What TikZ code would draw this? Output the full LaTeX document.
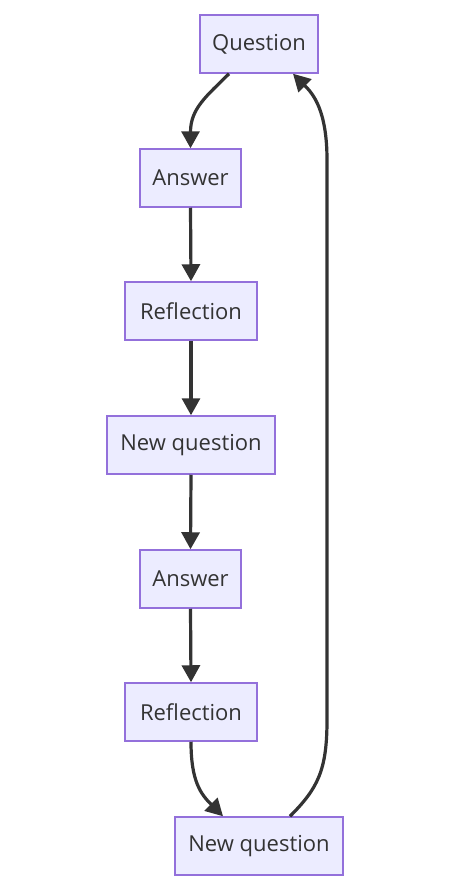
\documentclass[tikz,border=0pt]{standalone}
\usepackage{fontspec}
\setmainfont{Open Sans}
\usetikzlibrary{arrows.meta}
\definecolor{boxfill}{HTML}{ECECFF}
\definecolor{boxline}{HTML}{9370DB}
\definecolor{ink}{HTML}{333333}
\begin{document}
\begin{tikzpicture}[x=1pt,y=-1pt,
  box/.style={draw=boxline,fill=boxfill,line width=1.5pt,minimum height=58pt,inner sep=0pt,
    text=ink,font=\fontsize{22}{26}\selectfont},
  link/.style={draw=ink,line width=3.2pt,-{Triangle[length=17pt,width=18pt]}}]
\useasboundingbox (0,0) rectangle (474,886);
\fill[white] (0,0) rectangle (474,886);
\node[box,minimum width=118pt] (q) at (259,44) {Question};
\node[box,minimum width=101pt] (a1) at (190.5,178) {Answer};
\node[box,minimum width=132pt] (r1) at (191,311) {Reflection};
\node[box,minimum width=168pt] (n1) at (191,445) {New question};
\node[box,minimum width=101pt] (a2) at (190.5,579) {Answer};
\node[box,minimum width=132pt] (r2) at (191,712) {Reflection};
\node[box,minimum width=168pt] (n2) at (259,846) {New question};
\draw[link] ([xshift=-30pt]q.south) .. controls +(-22,22) and +(0,-40) .. (a1.north);
\draw[link] (a1.south) -- (r1.north);
\draw[link] (r1.south) -- (n1.north);
\draw[link] (n1.south) -- (a2.north);
\draw[link] (a2.south) -- (r2.north);
\draw[link] (r2.south) .. controls +(0,40) and +(-22,-22) .. ([xshift=-36pt]n2.north);
\draw[link] ([xshift=31pt]n2.north) .. controls +(28,-28) and +(0,50) .. (327,720) -- (327,160)
  .. controls +(0,-50) and +(20,20) .. ([xshift=34pt]q.south);
\end{tikzpicture}
\end{document}
